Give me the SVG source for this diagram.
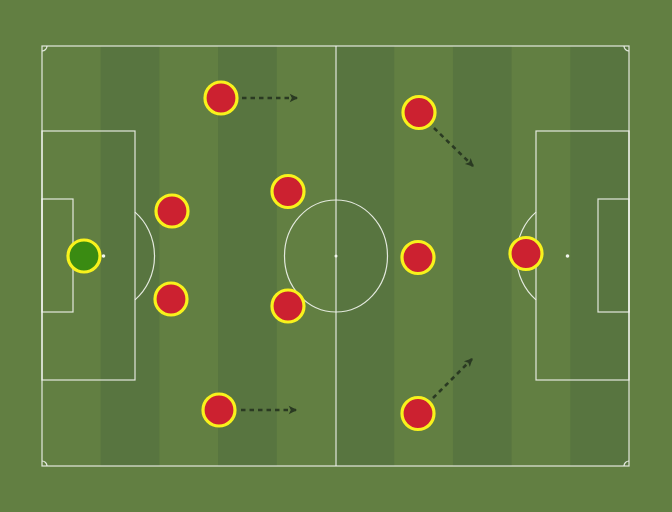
<svg xmlns="http://www.w3.org/2000/svg" width="672" height="512" viewBox="0 0 672 512">
<defs>
<style>
.line{fill:none;stroke:#f2f5ee;stroke-width:1.2;stroke-opacity:0.9}
.dark{fill:#587540}
.p{stroke:#f8f21c;stroke-width:3.2}
.red{fill:#cc2130}
.gk{fill:#3a8b12}
.run{fill:none;stroke:#2a3a22;stroke-width:2.6;stroke-dasharray:4.5 4}
</style>
<marker id="ah" viewBox="0 0 10 10" refX="8" refY="5" markerWidth="4" markerHeight="4" orient="auto" markerUnits="strokeWidth">
<path d="M1,1 L9,5 L1,9 L3,5 Z" fill="#2a3a22"/>
</marker>
</defs>
<rect x="0" y="0" width="672" height="512" fill="#627f42"/>
<g id="stripes">
<rect class="dark" x="100.7" y="46" width="58.7" height="420"/>
<rect class="dark" x="218.1" y="46" width="58.7" height="420"/>
<rect class="dark" x="335.5" y="46" width="58.7" height="420"/>
<rect class="dark" x="452.9" y="46" width="58.7" height="420"/>
<rect class="dark" x="570.3" y="46" width="58.7" height="420"/>
</g>
<g id="pitch-lines">
<rect class="line" x="42" y="46" width="587" height="420"/>
<line class="line" x1="336" y1="46" x2="336" y2="466"/>
<ellipse class="line" cx="336" cy="256" rx="51.5" ry="56"/>
<circle cx="336" cy="256" r="1.5" fill="#f2f5ee"/>
<rect class="line" x="42" y="131" width="93" height="249"/>
<rect class="line" x="42" y="199" width="31" height="113"/>
<circle cx="103.5" cy="256" r="1.8" fill="#f2f5ee"/>
<path class="line" d="M135,212.1 A51.5,56 0 0 1 135,299.9"/>
<rect class="line" x="536" y="131" width="93" height="249"/>
<rect class="line" x="598" y="199" width="31" height="113"/>
<circle cx="567.5" cy="256" r="1.8" fill="#f2f5ee"/>
<path class="line" d="M536,212.1 A51.5,56 0 0 0 536,299.9"/>
<path class="line" d="M42,51 A5,5 0 0 0 47,46"/>
<path class="line" d="M624,46 A5,5 0 0 0 629,51"/>
<path class="line" d="M42,461 A5,5 0 0 1 47,466"/>
<path class="line" d="M624,466 A5,5 0 0 1 629,461"/>
</g>
<g id="connectors">
<line class="run" x1="242" y1="98" x2="297" y2="98" marker-end="url(#ah)"/>
<line class="run" x1="241" y1="410" x2="296" y2="410" marker-end="url(#ah)"/>
<line class="run" x1="434" y1="128" x2="473" y2="166" marker-end="url(#ah)"/>
<line class="run" x1="433" y1="398" x2="472" y2="359" marker-end="url(#ah)"/>
</g>
<g id="gk"><circle class="p gk" cx="84" cy="256" r="16"/></g>
<g id="p1"><circle class="p red" cx="172" cy="211" r="16"/></g>
<g id="p2"><circle class="p red" cx="171" cy="299" r="16"/></g>
<g id="p3"><circle class="p red" cx="221" cy="98" r="16"/></g>
<g id="p4"><circle class="p red" cx="219" cy="410" r="16"/></g>
<g id="p5"><circle class="p red" cx="288" cy="191.5" r="16"/></g>
<g id="p6"><circle class="p red" cx="288" cy="306" r="16"/></g>
<g id="p7"><circle class="p red" cx="419" cy="112.5" r="16"/></g>
<g id="p8"><circle class="p red" cx="418" cy="257.5" r="16"/></g>
<g id="p9"><circle class="p red" cx="418" cy="413.5" r="16"/></g>
<g id="p10"><circle class="p red" cx="526" cy="253.5" r="16"/></g>
</svg>
